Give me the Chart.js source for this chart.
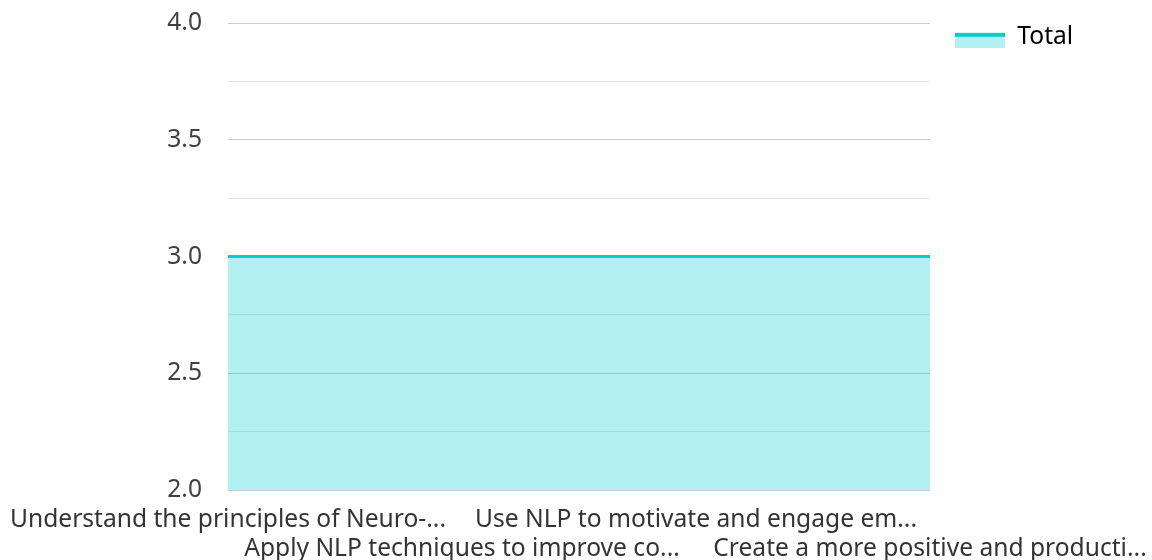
<!DOCTYPE html>
<html>
<head>
<meta charset="utf-8">
<script src="https://cdn.jsdelivr.net/npm/chart.js@4/dist/chart.umd.min.js"></script>
<style>
html,body{margin:0;padding:0;background:#fff;}
#wrap{width:1152px;height:560px;position:relative;}
</style>
</head>
<body>
<div id="wrap"><canvas id="c"></canvas></div>
<script>
const categories = [
  "Understand the principles of Neuro-...",
  "Apply NLP techniques to improve co...",
  "Use NLP to motivate and engage em...",
  "Create a more positive and producti..."
];
const totalValues = [3, 3, 3, 3];
const seriesName = "Total";
const yMin = 2.0, yMax = 4.0, yStep = 0.25, yLabelStep = 0.5;

const lineColor = "#00CED1";
const fillColor = "rgba(0,206,209,0.3)";

// staggered x labels: even index on first row, odd on second
const xLabels = categories.map((c, i) => i % 2 === 0 ? [c, ""] : ["", c]);

// legend swatch: fill with top stroke (drawn in lower part of a taller canvas)
const sw = document.createElement("canvas");
sw.width = 50; sw.height = 21;
const sctx = sw.getContext("2d");
sctx.fillStyle = fillColor; sctx.fillRect(0, 6, 50, 15);
sctx.fillStyle = lineColor; sctx.fillRect(0, 6, 50, 4);

Chart.defaults.font.family = "'Noto Sans', sans-serif";
Chart.defaults.font.size = 24.6;
Chart.defaults.color = "#404040";

new Chart(document.getElementById("c"), {
  type: "line",
  data: {
    labels: xLabels,
    datasets: [{
      label: seriesName,
      data: totalValues,
      borderColor: lineColor,
      backgroundColor: fillColor,
      borderWidth: 3,
      fill: "origin",
      pointRadius: 0,
      pointHoverRadius: 0,
      tension: 0
    }]
  },
  options: {
    responsive: true,
    maintainAspectRatio: false,
    animation: false,
    layout: { padding: { left: 0, top: 0, right: 0, bottom: 0 } },
    plugins: {
      tooltip: { enabled: false },
      legend: {
        position: "right",
        align: "start",
        labels: {
          usePointStyle: true,
          pointStyleWidth: 50,
          boxHeight: 15,
          color: "#333",
          padding: 25,
          generateLabels: (chart) => [{
            text: seriesName, pointStyle: sw, fillStyle: fillColor,
            strokeStyle: lineColor, lineWidth: 0, hidden: false, datasetIndex: 0
          }]
        }
      }
    },
    scales: {
      x: {
        offset: false,
        grid: { display: false, drawTicks: false },
        border: { display: false },
        ticks: { autoSkip: false, maxRotation: 0, minRotation: 0, padding: 15, color: "#333" },
        afterFit: (s) => { s.height = 70; s.paddingLeft = 228; s.paddingRight = 222; }
      },
      y: {
        min: yMin, max: yMax,
        border: { display: false },
        grid: {
          drawTicks: false,
          lineWidth: 1,
          color: (ctx) => {
            const v = ctx.tick ? ctx.tick.value : 0;
            return Math.abs(v / yLabelStep - Math.round(v / yLabelStep)) < 1e-6 ? "#cccccc" : "#e6e6e6";
          }
        },
        ticks: {
          stepSize: yStep,
          padding: 26,
          color: "#404040",
          callback: (v) => Math.abs(v / yLabelStep - Math.round(v / yLabelStep)) < 1e-6 ? Number(v).toFixed(1) : ""
        },
        afterFit: (s) => { s.paddingTop = 23; s.paddingBottom = 0; }
      }
    }
  }
});
</script>
</body>
</html>
